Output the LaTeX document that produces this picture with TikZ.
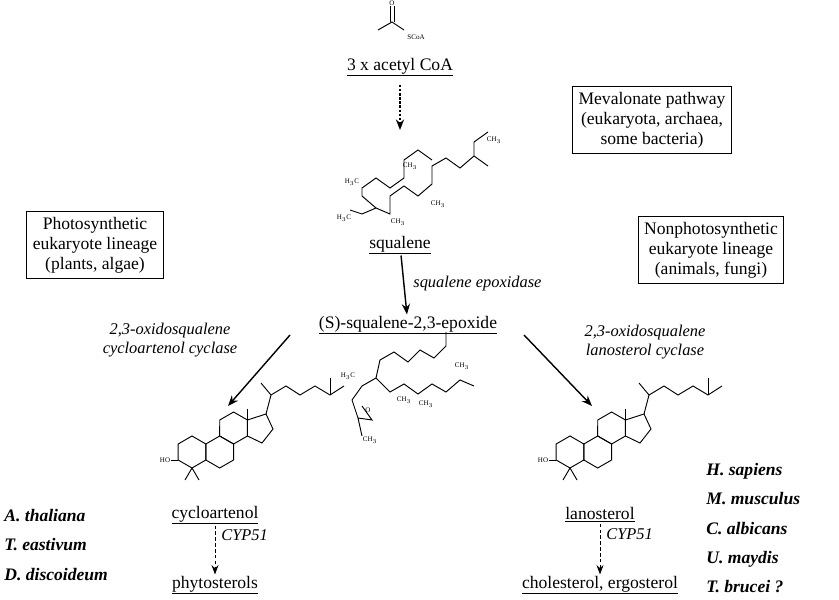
\documentclass[tikz,border=0pt]{standalone}
\usepackage{fontspec}
\setmainfont{Liberation Serif}
\usetikzlibrary{arrows.meta}
\tikzset{
  txt/.style={font=\fontsize{15}{17}\selectfont, inner sep=1pt, align=center},
  lab/.style={font=\fontsize{14}{16}\selectfont\itshape, inner sep=1pt, align=center},
  sp/.style={font=\fontsize{15}{25}\selectfont\bfseries\itshape, inner sep=1pt, align=left, anchor=north west},
  box/.style={draw, line width=0.9pt, txt, inner sep=5pt},
  arr/.style={-{Stealth[length=9pt,width=7pt]}, line width=1.2pt},
  dotarr/.style={-{Stealth[length=9pt,width=7pt]}, line width=1.3pt, dash pattern=on 2pt off 1.5pt},
  dasharr/.style={-{Stealth[length=8pt,width=6pt]}, line width=0.8pt, dash pattern=on 3pt off 2pt},
  mol/.style={line width=0.8pt},
  tiny/.style={font=\fontsize{6}{7}\selectfont, inner sep=0pt},
  pics/hexa/.style={code={\draw[mol] (30:16) -- (90:16) -- (150:16) -- (210:16) -- (270:16) -- (330:16) -- cycle;}},
  pics/steroid/.style={code={
    \pic at (0,0) {hexa};
    \pic at (27.7,0) {hexa};
    \pic at (41.6,-24) {hexa};
    \draw[mol] (55.4,-32) -- (74,-38) -- (81,-23) -- (70,-9) -- (55.4,-16);
    \draw[mol] (74,-38) -- (79,-57) -- (94,-66) -- (108,-57) -- (123,-66) -- (138,-57) -- (152,-66);
    \draw[mol] (79,-57) -- (69,-69);
    \draw[mol] (138,-57) -- (138,-74);
    \draw[mol] (-13.9,8) -- (-21,8);
    \node[tiny] at (-27,8) {HO};
    \draw[mol] (0,16) -- (-7,28) (0,16) -- (7,28);
    \draw[mol] (27.7,-16) -- (27.7,-26) (55.4,-32) -- (55.4,-43);
  }}
}
\begin{document}
\begin{tikzpicture}[x=0.03cm, y=-0.03cm]
\useasboundingbox (0,0) rectangle (839,600);

% acetyl CoA
\draw[mol] (378,30) -- (392,22) -- (404,30);
\draw[mol] (390,22) -- (390,6) (394,22) -- (394,6);
\node[tiny] at (392,3) {O};
\node[tiny] at (416,37) {SCoA};
\node[txt] (acoa) at (400,67) {\underline{3 x acetyl CoA}};

% squalene
\begin{scope}[shift={(0,-18)}]
\draw[mol] (350,228) -- (362,232) -- (376,226) -- (390,232) -- (390,214) -- (404,204) -- (418,214) -- (432,202) -- (432,184) -- (446,176) -- (460,186) -- (474,174) -- (474,160) -- (488,150);
\draw[mol] (376,226) -- (362,214) -- (362,206) -- (376,196) -- (390,206) -- (404,196) -- (404,178) -- (418,168) -- (432,178);
\draw[mol] (474,174) -- (488,184);
\node[tiny] at (352,200) {H$_3$C}; \node[tiny] at (410,184) {CH$_3$};
\node[tiny] at (494,158) {CH$_3$}; \node[tiny] at (398,240) {CH$_3$};
\node[tiny] at (438,222) {CH$_3$}; \node[tiny] at (344,236) {H$_3$C};
\end{scope}
\node[txt] (sq) at (400,245) {\underline{squalene}};

\node[box] (meva) at (652,120) {Mevalonate pathway\\(eukaryota, archaea,\\some bacteria)};
\node[box] (photo) at (95,245) {Photosynthetic\\eukaryote lineage\\(plants, algae)};
\node[box] (nonph) at (711,250) {Nonphotosynthetic\\eukaryote lineage\\(animals, fungi)};

\node[txt] (epo) at (408,325) {\underline{(S)-squalene-2,3-epoxide}};
\node[lab, anchor=west] (sqe) at (412,284) {squalene epoxidase};
\node[lab] (lcyc) at (170,340) {2,3-oxidosqualene\\cycloartenol cyclase};
\node[lab] (rcyc) at (645,342) {2,3-oxidosqualene\\lanosterol cyclase};

% epoxide structure
\draw[mol] (352,400) -- (362,386) -- (376,378) -- (380,360) -- (394,352) -- (408,362) -- (420,350) -- (434,358) -- (446,346) -- (446,332);
\draw[mol] (376,378) -- (390,392) -- (404,384) -- (418,394) -- (432,384) -- (446,392) -- (460,380) -- (474,386);
\draw[mol] (352,400) -- (358,418) -- (372,420) -- (362,406);
\draw[mol] (358,418) -- (362,436);
\node[tiny] at (368,410) {O}; \node[tiny] at (370,440) {CH$_3$};
\node[tiny] at (348,376) {H$_3$C}; \node[tiny] at (426,404) {CH$_3$};
\node[tiny] at (404,400) {CH$_3$}; \node[tiny] at (462,366) {CH$_3$};

% sterols
\pic at (192,452) {steroid};
\pic at (570,452) {steroid};
\node[txt] (cyc) at (215,515) {\underline{cycloartenol}};
\node[txt] (lan) at (600,515) {\underline{lanosterol}};
\node[txt] (phy) at (215,585) {\underline{phytosterols}};
\node[txt] (cho) at (600,585) {\underline{cholesterol, ergosterol}};

\node[sp] (lsp) at (3,508) {A. thaliana\\T. eastivum\\D. discoideum};
\node[sp] (rsp) at (705,462) {H. sapiens\\M. musculus\\C. albicans\\U. maydis\\T. brucei ?};

\coordinate (a1) at (400,85); \coordinate (a2) at (400,130);
\draw[dotarr] (a1) -- (a2);
\draw[arr] (sq) -- (epo);
\coordinate (l1) at (290,335); \coordinate (l2) at (228,406);
\coordinate (r1) at (524,335); \coordinate (r2) at (592,406);
\draw[arr] (l1) -- (l2);
\draw[arr] (r1) -- (r2);
\draw[dasharr] (cyc) -- node[lab, right=4pt, pos=0.2] {CYP51} (phy);
\draw[dasharr] (lan) -- node[lab, right=4pt, pos=0.2] {CYP51} (cho);
\end{tikzpicture}
\end{document}
